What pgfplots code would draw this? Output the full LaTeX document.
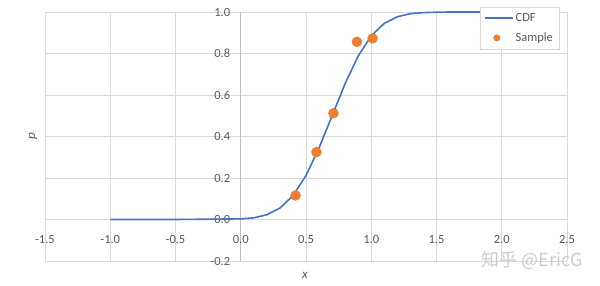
\documentclass[border=0pt]{standalone}
\usepackage{pgfplots}
\pgfplotsset{compat=1.18}
\usepackage{fontspec}
\setmainfont{Carlito}
\newfontfamily\cjk{Noto Sans CJK SC}
\definecolor{cdfblue}{HTML}{4472C4}
\definecolor{samporange}{HTML}{ED7D31}
\definecolor{gridgray}{HTML}{D9D9D9}
\definecolor{axisgray}{HTML}{BFBFBF}
\definecolor{ticktext}{HTML}{595959}
\begin{document}
\begin{tikzpicture}
\useasboundingbox (0,0) rectangle (600bp,286bp);
\begin{axis}[
  at={(45bp,25bp)}, anchor=south west,
  scale only axis, width=522bp, height=249bp,
  xmin=-1.5, xmax=2.5, ymin=-0.2, ymax=1.0,
  axis lines=middle,
  x axis line style={draw=gridgray, line width=1.8bp, -},
  y axis line style={draw=axisgray, line width=0.8bp, -},
  hide obscured x ticks=false, hide obscured y ticks=false,
  xtick={-1.5,-1.0,-0.5,0,0.5,1.0,1.5,2.0,2.5},
  ytick={-0.2,0,0.2,0.4,0.6,0.8,1.0},
  grid=major, major grid style={draw=gridgray, line width=0.8bp},
  major tick length=0,
  /pgf/number format/assume math mode=true,
  /pgf/number format/.cd, fixed, fixed zerofill, precision=1, /pgfplots/.cd,
  tick label style={font=\fontsize{12.5bp}{14bp}\selectfont, text=ticktext},
  xticklabel style={anchor=north, yshift=-12bp},
  yticklabel style={anchor=east, xshift=-7bp},
  xlabel={\textit{x}}, ylabel={\textit{p}},
  label style={font=\fontsize{13bp}{15bp}\selectfont, text=ticktext},
  xlabel style={at={(axis description cs:0.498,-0.056)}, anchor=center},
  ylabel style={at={(axis description cs:-0.023,0.5)}, anchor=center, rotate=90},
  legend style={at={(axis description cs:0.985,1.02)}, anchor=north east,
    draw=gridgray, fill=white, font=\fontsize{12.5bp}{14bp}\selectfont, text=ticktext,
    row sep=6bp, inner xsep=4bp, inner ysep=4bp},
  legend cell align=left,
]
\addplot[cdfblue, line width=1.6bp,
  legend image code/.code={\draw[cdfblue, line width=1.6bp] (0bp,0bp) -- (28bp,0bp);}]
  table {
x y
-1.0 0
-0.5 0
0.0 0.003
0.1 0.008
0.2 0.023
0.3 0.055
0.4 0.115
0.5 0.212
0.6 0.345
0.7 0.500
0.8 0.655
0.9 0.788
1.0 0.885
1.1 0.945
1.2 0.977
1.3 0.992
1.4 0.997
1.5 0.999
1.6 1.0
2.0 1.0
};
\addlegendentry{CDF}
\addplot[only marks, mark=*, mark size=5bp, mark options={draw=samporange, fill=samporange},
  legend image code/.code={\fill[samporange] (12bp,0bp) circle (3.2bp); \path[draw=none, fill=none] (0bp,0bp) -- (28bp,0bp);}]
  table {
x y
0.42 0.116
0.58 0.325
0.71 0.512
0.89 0.856
1.01 0.873
};
\addlegendentry{Sample}
\end{axis}
\node[text=black!20, font=\cjk\fontsize{18bp}{20bp}\selectfont] at (532bp,26bp) {知乎 @EricG};
\end{tikzpicture}
\end{document}
